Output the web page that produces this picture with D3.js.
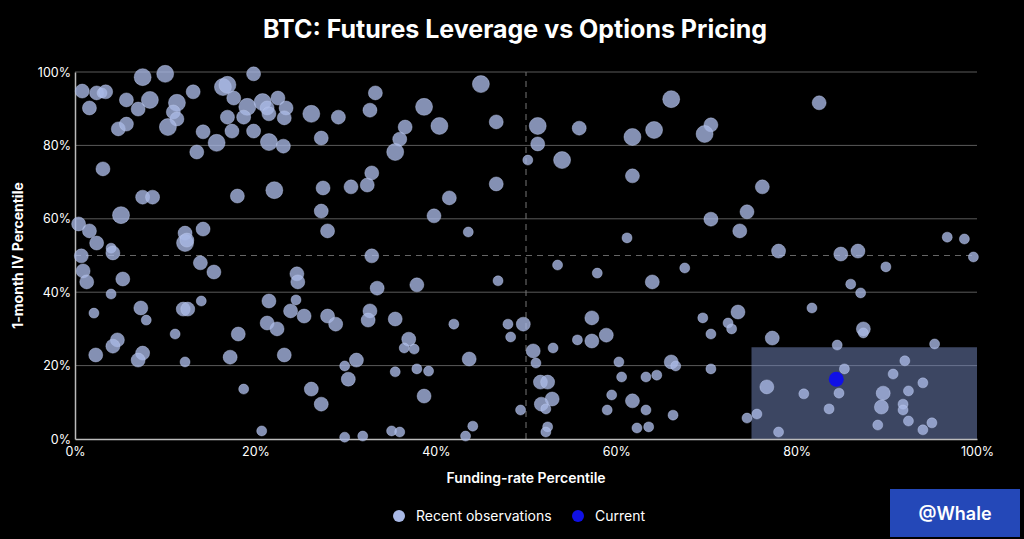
<!DOCTYPE html>
<html><head><meta charset="utf-8">
<script src="https://cdn.jsdelivr.net/npm/d3@7/dist/d3.min.js"></script>
<style>body{margin:0;background:#000;font-family:Inter,"Noto Sans",sans-serif}</style>
</head><body><svg id="c" width="1024" height="539"></svg>
<script>
// [funding-rate percentile, IV percentile, size class]
const observations = [
[0.8,94.8,2],[1.6,90.2,2],[2.4,94.3,2],[3.0,94.3,1],[3.4,94.6,2],[7.5,98.6,3],[10,99.5,3],[5.7,92.4,2],[8.3,92.4,3],[7.0,89.9,2],
[4.8,84.5,2],[5.7,85.8,2],[11.3,91.6,3],[10.9,89.1,2],[11.3,87.2,2],[10.3,85.0,3],[13.1,94.6,2],[16.4,95.9,3],[16.9,96.5,3],[17.6,92.9,2],
[19.1,90.5,3],[18.7,87.7,2],[16.9,87.7,2],[17.4,83.9,2],[19.8,99.5,2],[20.8,91.8,3],[21.3,90.2,2],[21.5,88.6,2],[22.5,92.9,2],[23.4,90.2,2],
[23.2,87.5,2],[19.8,83.9,2],[21.5,80.9,3],[23.1,79.8,2],[14.2,83.7,2],[15.7,80.7,3],[13.5,78.2,2],[26.2,88.6,3],[29.2,87.7,2],[27.3,82.0,2],
[32.7,89.6,2],[33.3,94.3,2],[3.1,73.6,2],[7.5,65.9,2],[8.6,65.9,2],[5.1,61.0,3],[18.0,66.2,2],[22.1,67.8,3],[27.5,68.4,2],[30.6,68.7,2],
[32.4,69.2,2],[32.9,72.5,2],[27.3,62.1,2],[28.0,56.7,2],[0.4,58.6,2],[1.6,56.7,2],[2.4,53.4,2],[4.0,52.0,1],[4.2,50.7,2],[0.7,49.9,2],
[12.2,56.1,2],[12.2,53.4,3],[12.4,54.2,2],[14.2,57.2,2],[32.9,49.9,2],
[38.7,90.5,3],[36.6,85.0,2],[36.0,81.7,2],[35.5,78.2,3],[40.4,85.3,3],[45.0,96.7,3],[46.7,86.4,2],[46.7,69.5,2],[41.5,65.7,2],[39.8,60.8,2],
[43.6,56.4,1],[51.3,85.3,3],[51.3,80.4,2],[50.2,76.0,1],[54.0,76.0,3],[55.9,84.7,2],[61.8,82.3,3],[64.2,84.2,3],[66.1,92.6,3],[61.8,71.7,2],[61.2,54.8,1],
[82.5,91.6,2],[70.5,85.6,2],[69.8,83.1,3],[76.2,68.7,2],[70.5,59.9,2],[74.5,61.9,2],[73.7,56.7,2],[78.0,51.2,2],[84.9,50.4,2],[86.8,51.2,2],
[96.7,55.0,1],[98.6,54.5,1],[99.6,49.6,1],
[0.9,45.8,2],[1.3,42.8,2],[5.3,43.6,2],[4.0,39.5,1],[2.1,34.3,1],[13.9,48.0,2],[15.4,45.5,2],[7.3,35.7,2],[7.9,32.4,1],[4.7,27.0,2],
[4.2,25.3,2],[2.3,22.9,2],[7.5,23.4,2],[7.0,21.5,2],[11.1,28.6,1],[12.2,21.0,1],[12.0,35.4,2],[12.5,35.4,2],[14.0,37.6,1],[18.1,28.6,2],
[17.2,22.3,2],[21.5,37.6,2],[21.3,31.6,2],[22.4,30.0,2],[23.2,22.9,2],[24.6,45.0,2],[24.7,42.8,2],[24.5,37.9,1],[23.9,34.9,2],[25.4,33.5,2],
[28.0,33.5,2],[28.9,31.3,2],[33.5,41.1,2],[32.7,34.9,2],[32.5,32.4,2],[29.9,19.9,1],[31.2,21.5,2],[30.3,16.3,2],[26.2,13.6,2],[27.3,9.5,2],
[18.7,13.6,1],[20.7,2.2,1],[29.9,0.5,1],[31.9,0.8,1],
[37.9,42.0,2],[46.9,43.1,1],[35.5,32.7,2],[42.0,31.3,1],[37.0,27.2,2],[36.5,24.8,1],[37.6,24.5,1],[43.7,21.8,2],[48.0,31.3,1],[49.7,31.3,2],
[48.3,27.8,1],[35.5,18.3,1],[37.9,19.1,1],[39.2,18.5,1],[38.7,11.7,2],[49.4,7.9,1],[44.1,3.5,1],[43.3,0.8,1],[35.1,2.2,1],[36.0,1.9,1],
[53.5,47.4,1],[57.9,45.2,1],[64.0,42.8,2],[67.6,46.6,1],[57.3,33.0,2],[55.7,27.0,1],[57.3,26.7,2],[58.9,28.3,2],[50.8,24.0,2],[53.0,24.8,1],
[51.1,20.7,1],[51.6,15.5,2],[52.4,15.5,2],[52.9,10.9,2],[51.7,9.5,2],[52.2,8.2,1],[52.4,3.3,1],[52.2,1.9,1],[60.3,21.0,1],[60.6,16.9,1],
[59.5,12.0,1],[61.8,10.4,2],[59.0,7.9,1],[63.3,7.9,1],[62.3,3.0,1],[63.6,3.3,1],[63.3,16.9,1],[64.5,17.4,1],[66.1,21.0,2],[66.6,19.9,1],[66.3,6.5,1],
[89.9,46.9,1],[86.0,42.2,1],[87.1,39.8,1],[81.7,35.7,1],[69.6,33.0,1],[73.5,34.6,2],[72.4,31.6,1],[72.8,30.0,1],[70.5,28.6,1],[77.3,27.5,2],
[87.4,30.0,2],[87.4,28.9,1],[84.5,25.6,1],[95.3,25.9,1],[70.5,19.1,1],[92.0,21.3,1],[85.3,19.1,1],[90.7,17.7,1],[94.0,15.3,1],[76.7,14.2,2],
[80.8,12.3,1],[84.7,12.5,1],[89.6,12.5,2],[92.4,13.1,1],[83.6,8.2,1],[89.4,8.7,2],[91.8,9.5,1],[91.8,7.9,1],[75.6,6.8,1],[74.5,5.7,1],
[92.4,4.9,1],[95.0,4.4,1],[89.0,3.8,1],[94.0,2.5,1],[78.0,1.9,1]
];
const current = [84.4, 16.3];
const zone = {x0:75, x1:100, y0:0, y1:25};
const ticks = [0,20,40,60,80,100];
const refLines = [50];

const svg = d3.select("#c");
const W=1024,H=539, m={l:75,r:47,t:72,b:100};
const x = d3.scaleLinear().domain([0,100]).range([m.l, W-m.r]);
const y = d3.scaleLinear().domain([0,100]).range([H-m.b, m.t]);
const r = d3.scaleOrdinal().domain([1,2,3]).range([5,7,8.5]);

svg.append("rect").attr("width",W).attr("height",H).attr("fill","#000");
svg.append("text").attr("x",515).attr("y",38).attr("text-anchor","middle").attr("fill","#fff")
  .attr("font-size",25).attr("font-weight",700).text("BTC: Futures Leverage vs Options Pricing");

svg.append("g").selectAll("line").data(ticks.filter(t=>t>0)).join("line")
  .attr("x1",x(0)).attr("x2",x(100)).attr("y1",d=>y(d)).attr("y2",d=>y(d))
  .attr("stroke","#5a5a5a").attr("stroke-width",1);

svg.append("rect").attr("x",x(zone.x0)).attr("y",y(zone.y1)).attr("width",x(zone.x1)-x(zone.x0))
  .attr("height",y(zone.y0)-y(zone.y1)).attr("fill","rgba(120,140,195,0.5)");

refLines.forEach(v=>{
  svg.append("line").attr("x1",x(v)).attr("x2",x(v)).attr("y1",y(0)).attr("y2",y(100))
    .attr("stroke","#777").attr("stroke-dasharray","6,5");
  svg.append("line").attr("x1",x(0)).attr("x2",x(100)).attr("y1",y(v)).attr("y2",y(v))
    .attr("stroke","#666").attr("stroke-dasharray","6,5");
});

const fmt = d=>d+"%";
const xa = svg.append("g").attr("transform",`translate(0,${y(0)})`)
  .call(d3.axisBottom(x).tickValues(ticks).tickFormat(fmt).tickSize(0).tickPadding(8));
const ya = svg.append("g").attr("transform",`translate(${x(0)},0)`)
  .call(d3.axisLeft(y).tickValues(ticks).tickFormat(fmt).tickSize(0).tickPadding(4));
[xa,ya].forEach(a=>{a.select(".domain").attr("stroke","#bbb").attr("stroke-width",1.5);
  a.selectAll("text").attr("fill","#fff").attr("font-size",12.5).attr("font-family","Inter,sans-serif");});

svg.append("g").selectAll("circle").data(observations).join("circle")
  .attr("cx",d=>x(d[0])).attr("cy",d=>y(d[1])).attr("r",d=>r(d[2]))
  .attr("fill","#a9b9e6").attr("fill-opacity",0.78).attr("stroke","#c4d0f2").attr("stroke-opacity",0.4);

svg.append("circle").attr("cx",x(current[0])).attr("cy",y(current[1])).attr("r",7.5).attr("fill","#1010e6");

svg.append("text").attr("x",x(50)).attr("y",483).attr("text-anchor","middle").attr("fill","#fff")
  .attr("font-size",14).attr("font-weight",600).text("Funding-rate Percentile");
svg.append("text").attr("transform",`translate(23,${y(50)}) rotate(-90)`).attr("text-anchor","middle")
  .attr("fill","#fff").attr("font-size",14).attr("font-weight",700).text("1-month IV Percentile");

const lg = svg.append("g").attr("font-size",14).attr("fill","#fff");
lg.append("circle").attr("cx",399).attr("cy",516).attr("r",6).attr("fill","#a9b9e6");
lg.append("text").attr("x",416).attr("y",521).text("Recent observations");
lg.append("circle").attr("cx",578).attr("cy",516).attr("r",6).attr("fill","#1010e6");
lg.append("text").attr("x",595).attr("y",521).text("Current");

svg.append("rect").attr("x",890).attr("y",489).attr("width",130).attr("height",48).attr("fill","#2a55d8").attr("opacity",0.85);
svg.append("text").attr("x",955).attr("y",520).attr("text-anchor","middle").attr("fill","#fff")
  .attr("font-size",18).attr("font-weight",600).text("@Whale");
</script></body></html>
